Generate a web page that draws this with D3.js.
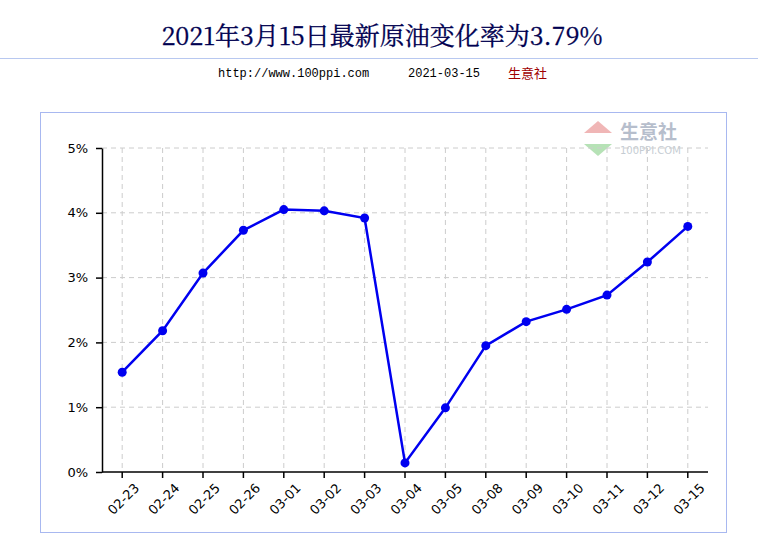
<!DOCTYPE html>
<html><head><meta charset="utf-8">
<script src="https://cdn.jsdelivr.net/npm/d3@7/dist/d3.min.js"></script>
<style>body{margin:0;background:#fff}</style></head>
<body><svg id="c" width="758" height="549"></svg>
<script>
const categories=["02-23","02-24","02-25","02-26","03-01","03-02","03-03","03-04","03-05","03-08","03-09","03-10","03-11","03-12","03-15"];
const values=[1.54,2.18,3.07,3.73,4.05,4.03,3.92,0.14,0.99,1.95,2.32,2.51,2.73,3.24,3.79];
const yTicks=[0,1,2,3,4,5];
const svg=d3.select("#c");
svg.append("text").attr("x",382).attr("y",45).attr("text-anchor","middle").attr("font-family","'Noto Serif CJK SC','Noto Sans CJK SC',serif").attr("font-size",25).attr("fill","#000050").attr("stroke","#000050").attr("stroke-width",0.3).text("2021年3月15日最新原油变化率为3.79%");
svg.append("line").attr("x1",0).attr("x2",758).attr("y1",58.5).attr("y2",58.5).attr("stroke","#b8c8f0");
const sub=svg.append("g").attr("font-family","'Liberation Mono',monospace").attr("font-size",12);
sub.append("text").attr("x",218).attr("y",77).text("http://www.100ppi.com");
sub.append("text").attr("x",408).attr("y",77).text("2021-03-15");
sub.append("text").attr("x",508).attr("y",78).attr("fill","#a00000").attr("font-family","'Noto Sans CJK SC'").attr("font-size",13).text("生意社");
svg.append("rect").attr("x",40.5).attr("y",112.5).attr("width",686).attr("height",420).attr("fill","none").attr("stroke","#a8b8f0");
const wm=svg.append("g").attr("opacity",0.45);
wm.append("path").attr("d","M584,133 L598,121 L612,133 Z").attr("fill","#e06060");
wm.append("path").attr("d","M584,144 L598,156 L612,144 Z").attr("fill","#60c060");
wm.append("text").attr("x",620).attr("y",139).attr("font-family","'Noto Sans CJK SC'").attr("font-size",19).attr("font-weight","bold").attr("fill","#607090").text("生意社");
wm.append("text").attr("x",620).attr("y",154).attr("font-family","'DejaVu Sans'").attr("font-size",10).attr("fill","#8090a0").text("100PPI.COM");
const x=d3.scaleBand().domain(categories).range([102,708]);
const y=d3.scaleLinear().domain([0,5]).range([472,148]);
const grid=svg.append("g").attr("stroke","#ccc").attr("stroke-dasharray","5,4");
yTicks.slice(1).forEach(t=>grid.append("line").attr("x1",102).attr("x2",708).attr("y1",y(t)).attr("y2",y(t)));
categories.forEach(c=>grid.append("line").attr("x1",x(c)+x.bandwidth()/2).attr("x2",x(c)+x.bandwidth()/2).attr("y1",148).attr("y2",472));
const ya=svg.append("g").attr("transform","translate(102,0)").call(d3.axisLeft(y).tickValues(yTicks).tickFormat(d=>d+"%").tickSize(6).tickSizeOuter(0));
ya.selectAll("text").attr("font-family","Verdana,'DejaVu Sans'").attr("font-size",13).attr("fill","#000").attr("x",-14);
const xa=svg.append("g").attr("transform","translate(0,472)").call(d3.axisBottom(x).tickSize(6).tickSizeOuter(0));
xa.select(".domain").attr("d","M102,0H708");
xa.selectAll("text").attr("font-family","Verdana,'DejaVu Sans'").attr("font-size",13).attr("fill","#000").attr("text-anchor","end").attr("transform","translate(5,4) rotate(-45)").attr("dy","0.7em");
svg.selectAll(".domain,.tick line").attr("stroke","#000").attr("stroke-width",1.5);
const cx=d=>x(d)+x.bandwidth()/2;
svg.append("path").datum(values).attr("fill","none").attr("stroke","#0000f0").attr("stroke-width",2.5)
 .attr("d",d3.line().x((d,i)=>cx(categories[i])).y(d=>y(d)));
svg.selectAll(".pt").data(values).join("circle").attr("cx",(d,i)=>cx(categories[i])).attr("cy",d=>y(d)).attr("r",4.5).attr("fill","#0000f0");
</script></body></html>
